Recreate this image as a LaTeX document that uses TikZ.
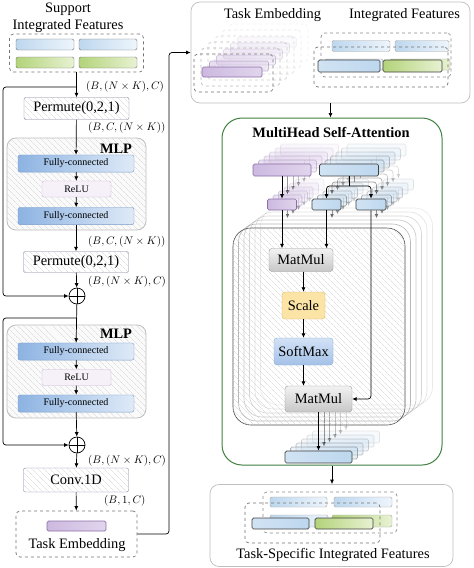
\documentclass[tikz,border=0pt,12pt]{standalone}
\usepackage{fontspec}
\setmainfont{Liberation Serif}
\usetikzlibrary{arrows.meta,patterns.meta}
\definecolor{permline}{HTML}{7D7D9E}
\definecolor{mlpline}{HTML}{BDBDBD}
\definecolor{fcL}{HTML}{8DB3E2}
\definecolor{fcR}{HTML}{DFEAF7}
\definecolor{fcline}{HTML}{7A9CC8}
\definecolor{reluline}{HTML}{C9B8D6}
\definecolor{relufill}{HTML}{F6F1F9}
\definecolor{blueL}{HTML}{BDD7EE}
\definecolor{blueR}{HTML}{EEF5FC}
\definecolor{greenL}{HTML}{B3D37A}
\definecolor{greenR}{HTML}{E8F2D2}
\definecolor{purpL}{HTML}{CDB9E0}
\definecolor{purpline}{HTML}{8C6FA8}
\definecolor{scalefill}{HTML}{FCE3A6}
\definecolor{scaleline}{HTML}{E2BC68}
\definecolor{smT}{HTML}{D3E2F5}
\definecolor{smB}{HTML}{A3C1E8}
\definecolor{smline}{HTML}{8EAFD9}
\definecolor{mmline}{HTML}{9A9A9A}
\definecolor{mhsaline}{HTML}{3F7F3F}

\begin{document}
\begin{tikzpicture}[x=1pt,y=-1pt,
            hatch/.style={postaction={pattern color=black!18,pattern={Lines[angle=-45,distance=4pt,line width=0.3pt]}}},
            arr/.style={-{Latex[length=4.5pt,width=4pt]},line width=0.7pt},
            lnk/.style={line width=0.7pt,rounded corners=3pt},
            lbl/.style={anchor=west,font=\small},
            permbox/.style={draw=permline,fill=white,rounded corners=2pt,minimum width=105,minimum height=22,font=\large,hatch},
            mlpbox/.style={draw=mlpline,line width=0.8pt,fill=black!2,rounded corners=9pt,minimum width=139,minimum height=92,hatch},
            fcbox/.style={draw=fcline,left color=fcL,right color=fcR,rounded corners=2pt,minimum width=116,minimum height=17,font=\footnotesize},
            relubox/.style={draw=reluline,fill=relufill,rounded corners=2pt,minimum width=69,minimum height=16,font=\footnotesize},
            addnode/.style={circle,draw,line width=0.7pt,minimum size=16,inner sep=0pt},
            dbox/.style={draw=black!55,dashed,line width=0.7pt,rounded corners=4pt,inner sep=0pt},
            bbar/.style={draw=black!55,left color=blueL,right color=blueR,rounded corners=1.5pt,minimum width=58,minimum height=11,inner sep=0pt},
            gbar/.style={draw=black!55,left color=greenL,right color=greenR,rounded corners=1.5pt,minimum width=58,minimum height=11,inner sep=0pt},
            pbar/.style={draw=purpline,line width=0.7pt,left color=purpL,middle color=white,right color=purpL!60,rounded corners=1.5pt,minimum width=59,minimum height=10,inner sep=0pt},
            kvbar/.style={draw=black!75,line width=0.7pt,left color=blueL!70,middle color=white,right color=blueL,rounded corners=1.5pt,minimum width=59,minimum height=12,inner sep=0pt},
            psmall/.style={pbar,minimum width=29,minimum height=11},
            bsmall/.style={kvbar,minimum width=29,minimum height=11},
            obar/.style={kvbar,minimum width=67,minimum height=12},
            headline/.style={draw=black!70,line width=0.6pt,rounded corners=18pt},
            opbox/.style={rounded corners=3pt,font=\large,inner sep=0pt},
            panel/.style={draw=black!25,line width=0.7pt,fill=white,rounded corners=9pt}]
            \useasboundingbox (0,0) rectangle (474,568);
            \node[align=center,font=\large,inner sep=0pt] (sft) at (68,17.5) {Support\\[-1pt]Integrated Features};
            \node[dbox,minimum width=134,minimum height=38] (sf) at (76.5,53) {};
            \node[bbar] (sf1) at (45,44.5) {};
            \node[bbar] (sf2) at (108,44.5) {};
            \node[gbar] (sf3) at (45,62.5) {};
            \node[gbar] (sf4) at (108,62.5) {};
            \node[permbox] (perm1) at (76.5,108.5) {Permute(0,2,1)};
            \node[mlpbox] (mlp1) at (76.5,184) {};
            \node[font=\large\bfseries] (mlp1t) at (116,149) {MLP};
            \node[fcbox] (fc1a) at (76,163.5) {Fully-connected};
            \node[relubox] (relu1) at (76.5,189) {ReLU};
            \node[fcbox] (fc1b) at (76,216) {Fully-connected};
            \node[permbox,minimum height=20] (perm2) at (76,262) {Permute(0,2,1)};
            \node[addnode] (add1) at (77,296) {};
            \node[mlpbox,minimum height=93] (mlp2) at (76.5,371.5) {};
            \node[font=\large\bfseries] (mlp2t) at (116,334) {MLP};
            \node[fcbox] (fc2a) at (76,351.5) {Fully-connected};
            \node[relubox] (relu2) at (76.5,377.5) {ReLU};
            \node[fcbox] (fc2b) at (76,403.5) {Fully-connected};
            \node[addnode] (add2) at (77,445) {};
            \node[permbox,minimum height=24] (conv) at (76,480) {Conv.1D};
            \node[dbox,minimum width=121,minimum height=46] (te) at (76.5,534) {};
            \node[pbar] (teb) at (76.5,526) {};
            \node[font=\large] (tet) at (77,545) {Task Embedding};
            \foreach \a in {add1,add2}
                \draw[line width=0.7pt] (\a.north) -- (\a.south) (\a.west) -- (\a.east);
            \node[lbl] at (82,87) {$(B,(N\times K),C)$};
            \node[lbl] at (84,128) {$(B,C,(N\times K))$};
            \node[lbl] at (84,242) {$(B,C,(N\times K))$};
            \node[lbl] at (84,282) {$(B,(N\times K),C)$};
            \node[lbl] at (84,461) {$(B,(N\times K),C)$};
            \node[lbl] at (100,501) {$(B,1,C)$};
            \coordinate (r1) at (77,87);
            \coordinate (r2) at (77,318);
            \coordinate (tb) at (169,534);
            \draw[arr] (sf) -- (perm1);
            \draw[arr] (perm1) -- (fc1a);
            \draw[arr] (fc1a) -- (relu1);
            \draw[arr] (relu1) -- (fc1b);
            \draw[arr] (fc1b) -- (perm2);
            \draw[arr] (perm2) -- (add1);
            \draw[arr] (add1) -- (fc2a);
            \draw[arr] (fc2a) -- (relu2);
            \draw[arr] (relu2) -- (fc2b);
            \draw[arr] (fc2b) -- (add2);
            \draw[arr] (add2) -- (conv);
            \draw[arr] (conv) -- (te);
            \draw[lnk,arr] (r1) -- (3,87) |- (add1.west);
            \draw[lnk,arr] (r2) -- (3,318) |- (add2.west);
            \node[panel,minimum width=279,minimum height=101] (topbox) at (330.5,52.5) {};
            \draw[lnk,arr] (te.east) -- (tb) |- (topbox.west);
            \node[font=\large] (tt1) at (272.5,15) {Task Embedding};
            \node[font=\large] (tt2) at (404.5,15) {Integrated Features};
            \foreach \k/\op in {5/0.1,4/0.16,3/0.24,2/0.34,1/0.48}{
                \begin{scope}[shift={(7*\k,-6*\k)},opacity=\op]
                    \node[dbox,minimum width=79,minimum height=38] at (233.5,73) {};
                    \node[pbar] at (232,72) {};
                \end{scope}
            }
            \node[dbox,minimum width=79,minimum height=38] (tem) at (233.5,73) {};
            \node[pbar,minimum width=60] (temb) at (232,72) {};
            \node[bbar,draw=black!35] (if1) at (361,46) {};
            \node[bbar,draw=black!35,minimum width=54] (if2) at (422,46) {};
            \node[bbar,draw=black!35] (if3) at (354,64.5) {};
            \node[gbar,draw=black!35,minimum width=60] (if4) at (420,64.5) {};
            \node[dbox,draw=black!45,minimum width=130,minimum height=44] (ifb) at (386,55) {};
            \node[kvbar,minimum width=62] (if5) at (349,66) {};
            \node[gbar,draw=black!75,line width=0.7pt,minimum width=59,minimum height=12] (if6) at (412.5,66) {};
            \node[dbox,minimum width=134,minimum height=40] (iff) at (381,67) {};
            \node[draw=mhsaline,line width=1pt,fill=white,rounded corners=20pt,minimum width=220,minimum height=347] (mhsa) at (332,291.5) {};
            \draw[arr] (topbox.south) -- (topbox.south |- mhsa.north);
            \node[font=\large\bfseries] (mhsat) at (331,133) {MultiHead Self-Attention};
            \foreach \k/\op in {5/0.12,4/0.17,3/0.23,2/0.3,1/0.4}{
                \begin{scope}[shift={(5.5*\k,-4*\k)},opacity=\op]
                    \draw[headline] (233,228) rectangle (405,425);
                    \node[pbar,minimum width=58,minimum height=12] (qb) at (282,170) {};
                    \node[kvbar] (kvb) at (349,170) {};
                    \node[psmall] (q) at (282,204.5) {};
                    \node[bsmall] (k) at (326.5,204.5) {};
                    \node[bsmall,minimum width=30] (v) at (371,204.5) {};
                    \coordinate (sp) at (349,186);
                    \coordinate (mo) at (318.5,414);
                    \node[obar] (ob) at (318.5,457) {};
                    \draw[arr] (qb) -- (q);
                    \draw[lnk] (kvb) -- (sp);
                    \draw[lnk,arr] (sp) -| (k);
                    \draw[lnk,arr] (sp) -| (v);
                    \foreach \n in {q,k,v}
                        \draw[arr] (\n.south) -- ++(0,12);
                    \draw[arr] (mo) -- (ob);
                \end{scope}
            }
            \draw[headline,hatch] (233,228) rectangle (405,425);
            \node[pbar,minimum width=58,minimum height=12] (qb) at (282,170) {};
            \node[kvbar] (kvb) at (349,170) {};
            \node[psmall] (q) at (282,204.5) {};
            \node[bsmall] (k) at (326.5,204.5) {};
            \node[bsmall,minimum width=30] (v) at (371,204.5) {};
            \coordinate (sp) at (349,186);
            \node[opbox,draw=mmline,top color=black!5,bottom color=black!22,minimum width=64,minimum height=23] (mm1) at (301,260) {MatMul};
            \node[opbox,draw=scaleline,fill=scalefill,minimum width=43,minimum height=27] (scale) at (303.5,305.5) {Scale};
            \node[opbox,draw=smline,top color=smT,bottom color=smB,minimum width=59,minimum height=27] (sm) at (303.5,351.5) {SoftMax};
            \node[opbox,draw=mmline,top color=black!5,bottom color=black!22,minimum width=67,minimum height=26] (mm2) at (318.5,399) {MatMul};
            \node[obar] (ob) at (318.5,457) {};
            \draw[arr] (qb) -- (q);
            \draw[lnk] (kvb) -- (sp);
            \draw[lnk,arr] (sp) -| (k);
            \draw[lnk,arr] (sp) -| (v);
            \draw[arr] (q) -- (q |- mm1.north);
            \draw[arr] (k) -- (k |- mm1.north);
            \draw[arr] (mm1.south -| scale) -- (scale);
            \draw[arr] (scale) -- (sm);
            \draw[arr] (sm) -- (sm |- mm2.north);
            \draw[lnk,arr] (v) |- (mm2.east);
            \draw[arr] (mm2) -- (ob);
            \node[panel,minimum width=243,minimum height=82] (bot) at (331.5,525.5) {};
            \draw[arr] (mhsa.south) -- (mhsa.south |- bot.north);
            \node[bbar,draw=black!35,minimum width=57,minimum height=10] (tf1) at (298.5,502) {};
            \node[bbar,draw=black!35,minimum width=58,minimum height=10] (tf2) at (363,502) {};
            \node[bbar,draw=black!35,minimum height=12] (tf3) at (299,521) {};
            \node[gbar,draw=black!35,minimum width=60,minimum height=12] (tf4) at (362,521) {};
            \node[dbox,draw=black!45,minimum width=134,minimum height=41] (tfb) at (330,512.5) {};
            \node[kvbar,minimum width=57,minimum height=11] (tf5) at (280.5,523.5) {};
            \node[gbar,draw=black!75,line width=0.7pt,minimum height=11] (tf6) at (344,523.5) {};
            \node[dbox,minimum width=135,minimum height=40] (tff) at (312.5,523) {};
            \node[font=\large] (bott) at (333,555) {Task-Specific Integrated Features};
\end{tikzpicture}
\end{document}
